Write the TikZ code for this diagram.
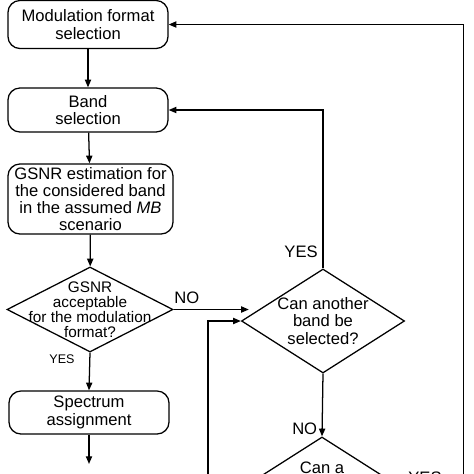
\documentclass[tikz,border=0pt]{standalone}
\usepackage{fontspec}
\setmainfont{Liberation Sans}
\usetikzlibrary{shapes.geometric,arrows.meta,calc}

\begin{document}
\begin{tikzpicture}[x=0.025cm,y=-0.025cm,line width=0.9pt,
    font=\fontsize{11.8}{12.2}\selectfont,
    box/.style={draw,rounded corners=0.3cm,align=center,inner sep=0},
    decision/.style={draw,diamond,inner sep=0},
    arr/.style={-{Triangle[length=5.5pt,width=4.4pt]}},
    smalltext/.style={font=\fontsize{8.9}{9}\selectfont}]
  \useasboundingbox (0,0) rectangle (474,474);
  \clip (0,0) rectangle (474,474);
  \node[box,minimum width=4cm,minimum height=1.2cm]     (mod)  at (88,24.5)  {Modulation format\\selection};
  \node[box,minimum width=4cm,minimum height=1.1cm]     (band) at (88,110)   {Band\\selection};
  \node[box,minimum width=4.125cm,minimum height=1.75cm] (gsnr) at (90.5,199) {GSNR estimation for\\the considered band\\in the assumed \textit{MB}\\scenario};
  \node[decision,minimum width=4.15cm,minimum height=2.125cm,
        label={[align=center,font=\fontsize{10.9}{10.8}\selectfont]center:{GSNR\\acceptable\\for the modulation\\format?}}]
                                                         (acc)  at (90,309.5) {};
  \node[box,minimum width=4cm,minimum height=1.075cm]   (spec) at (89,412.5) {Spectrum\\assignment};
  \node[decision,minimum width=4.075cm,minimum height=2.6cm,
        label={[align=center]center:{Can another\\band be\\selected?}}]
                                                         (other) at (323,321) {};
  \node[decision,minimum width=4.075cm,minimum height=2.6cm,
        label={[yshift=0.525cm]center:{Can a}}]
                                                         (more) at (322,489) {};
  \coordinate (next) at (89,464);
  \coordinate (back) at (208,490);
  % main column
  \draw[arr] (mod)  -- (band);
  \draw[arr] (band) -- (gsnr);
  \draw[arr] (gsnr) -- (acc);
  \draw[arr] (acc.south) -- node[smalltext,pos=0.18,left,xshift=-0.25cm] {YES} (spec.north);
  \draw[arr] (spec.south) -- (spec.south |- next);
  % right side loops
  \draw[arr] (acc.east) -- node[pos=0,anchor=south west,inner xsep=0,inner ysep=4pt] {NO}
             ($(acc.east -| other.west)+(8,0)$);
  \draw[arr] (other.north) |- node[pos=0.053,left] {YES} (band.east);
  \draw[arr] (other.south) -- node[pos=1,anchor=south east,inner xsep=3pt,inner ysep=1pt] {NO} (more.north);
  \draw[arr] (more.east) -- node[pos=0.35,above] {YES} ++(59.5,0) |- (mod.east);
  \draw[arr] (back) |- (other.west);
\end{tikzpicture}
\end{document}
